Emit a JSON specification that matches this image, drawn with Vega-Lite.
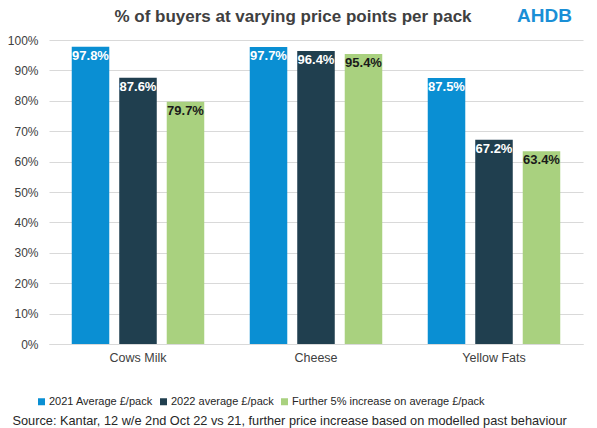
{
  "$schema": "https://vega.github.io/schema/vega-lite/v6.json",
  "width": 534,
  "height": 304,
  "autosize": {"type": "none"},
  "padding": {"left": 49, "top": 40, "right": 14, "bottom": 84},
  "background": "white",
  "title": {
    "text": "% of buyers at varying price points per pack",
    "font": "Liberation Sans",
    "fontSize": 17,
    "fontWeight": "bold",
    "color": "#404040",
    "anchor": "middle",
    "frame": "group",
    "baseline": "alphabetic",
    "dx": -23,
    "offset": -33
  },
  "config": {
    "font": "Liberation Sans",
    "view": {"stroke": null}
  },
  "data": {
    "values": [
      {"product": "Cows Milk", "series": "2021 Average £/pack", "pct": 97.8},
      {"product": "Cows Milk", "series": "2022 average £/pack", "pct": 87.6},
      {"product": "Cows Milk", "series": "Further 5% increase on average £/pack", "pct": 79.7},
      {"product": "Cheese", "series": "2021 Average £/pack", "pct": 97.7},
      {"product": "Cheese", "series": "2022 average £/pack", "pct": 96.4},
      {"product": "Cheese", "series": "Further 5% increase on average £/pack", "pct": 95.4},
      {"product": "Yellow Fats", "series": "2021 Average £/pack", "pct": 87.5},
      {"product": "Yellow Fats", "series": "2022 average £/pack", "pct": 67.2},
      {"product": "Yellow Fats", "series": "Further 5% increase on average £/pack", "pct": 63.4}
    ]
  },
  "transform": [
    {"calculate": "format(datum.pct, '.1f') + '%'", "as": "label"}
  ],
  "encoding": {
    "x": {
      "field": "product",
      "type": "nominal",
      "sort": ["Cows Milk", "Cheese", "Yellow Fats"],
      "scale": {"paddingInner": 0, "paddingOuter": 0},
      "axis": {
        "title": "Source: Kantar, 12 w/e 2nd Oct 22 vs 21, further price increase based on modelled past behaviour",
        "titleFontSize": 12.75,
        "titleFontWeight": "normal",
        "titleColor": "#262626",
        "titleAnchor": "start",
        "titleAlign": "left",
        "titleBaseline": "alphabetic",
        "titleX": -37,
        "titleY": 80,
        "labelAngle": 0,
        "labelFontSize": 12.5,
        "labelColor": "#404040",
        "labelPadding": 7,
        "ticks": false,
        "domainColor": "#d9d9d9",
        "grid": false
      }
    },
    "xOffset": {
      "field": "series",
      "type": "nominal",
      "scale": {"paddingInner": 0.21, "paddingOuter": 0.479}
    },
    "y": {
      "field": "pct",
      "type": "quantitative",
      "scale": {"domain": [0, 100]},
      "axis": {
        "values": [0, 10, 20, 30, 40, 50, 60, 70, 80, 90, 100],
        "labelExpr": "datum.value + '%'",
        "labelFontSize": 12,
        "labelColor": "#404040",
        "labelPadding": 11,
        "ticks": false,
        "domain": false,
        "gridColor": "#d9d9d9",
        "title": "AHDB",
        "titleAngle": 0,
        "titleFontSize": 19,
        "titleFontWeight": "bold",
        "titleColor": "#1a8fd6",
        "titleAlign": "center",
        "titleBaseline": "alphabetic",
        "titleX": 495,
        "titleY": -19
      }
    }
  },
  "layer": [
    {
      "mark": {"type": "bar"},
      "encoding": {
        "color": {
          "field": "series",
          "type": "nominal",
          "scale": {
            "domain": ["2021 Average £/pack", "2022 average £/pack", "Further 5% increase on average £/pack"],
            "range": ["#0a8fd3", "#203f4f", "#a9d17f"]
          },
          "legend": {
            "title": null,
            "orient": "none",
            "direction": "horizontal",
            "legendX": -13,
            "legendY": 356,
            "symbolType": "square",
            "symbolSize": 49,
            "symbolStrokeWidth": 0,
            "labelFontSize": 11,
            "labelColor": "#262626",
            "labelOffset": 2,
            "labelLimit": 0,
            "columnPadding": 5,
            "padding": 0
          }
        }
      }
    },
    {
      "mark": {"type": "text", "baseline": "top", "dy": 3, "fontSize": 13, "fontWeight": "bold"},
      "encoding": {
        "text": {"field": "label", "type": "nominal"},
        "color": {
          "condition": {"test": "datum.series === 'Further 5% increase on average £/pack'", "value": "#1a1a1a"},
          "value": "white"
        }
      }
    }
  ]
}
